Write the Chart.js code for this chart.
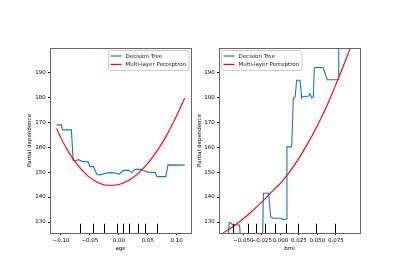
<!DOCTYPE html>
<html>
<head>
<meta charset="utf-8">
<script src="https://cdn.jsdelivr.net/npm/chart.js@4.4.1/dist/chart.umd.min.js"></script>
<style>
  html, body { margin: 0; padding: 0; background: #fff; }
  #wrap { position: relative; width: 400px; height: 280px; overflow: hidden; }
  canvas { position: absolute; top: 0; }
  #ageChart { left: 0; }
  #bmiChart { left: 190px; }
</style>
</head>
<body>
<div id="wrap">
  <canvas id="ageChart" width="200" height="280"></canvas>
  <canvas id="bmiChart" width="210" height="280"></canvas>
</div>
<script>
// shared y axis
const yTicks = [130, 140, 150, 160, 170, 180, 190];

// age panel
const ageTicks = [-0.10, -0.05, 0.00, 0.05, 0.10];
const ageDeciles = [-0.0675, -0.0443, -0.0260, -0.0040, 0.0069, 0.0173, 0.0336, 0.0445, 0.0665];
const ageTreeX = [-0.1077, -0.0995, -0.0975, -0.0820, -0.0790, -0.0750, -0.0700, -0.0640, -0.0530, -0.0500,
  -0.0440, -0.0380, -0.0320, -0.0200, -0.0140, -0.0060, 0.0010, 0.0070, 0.0170, 0.0220,
  0.0280, 0.0380, 0.0440, 0.0500, 0.0630, 0.0660, 0.0810, 0.0850, 0.1137];
const ageTreeY = [168.9, 168.9, 166.9, 166.9, 154.6, 154.5, 155.0, 154.3, 154.1, 152.2,
  152.3, 149.0, 148.9, 149.7, 149.8, 149.6, 149.2, 150.6, 150.8, 149.8,
  151.1, 151.1, 150.5, 150.0, 149.8, 148.2, 148.2, 152.9, 152.8];
const ageMlpX = [-0.1077, -0.10, -0.09, -0.08, -0.07, -0.06, -0.05, -0.04, -0.03, -0.02, -0.01, 0.00,
  0.01, 0.02, 0.03, 0.04, 0.05, 0.06, 0.07, 0.08, 0.09, 0.10, 0.1137];
const ageMlpY = [167.5, 163.6, 159.3, 155.6, 152.5, 149.9, 147.8, 146.3, 145.2, 144.7, 144.7, 145.0,
  145.9, 147.1, 148.8, 151.0, 153.5, 156.5, 159.9, 163.7, 168.0, 172.7, 179.6];

// bmi panel
const bmiTicks = [-0.050, -0.025, 0.000, 0.025, 0.050, 0.075];
const bmiDeciles = [-0.0639, -0.0436, -0.0332, -0.0200, -0.0076, 0.0081, 0.0243, 0.0483, 0.0740];
const bmiTreeX = [-0.0775, -0.0705, -0.0690, -0.0665, -0.0640, -0.0550, -0.0535, -0.0240, -0.0228, -0.0157,
  -0.0130, -0.0100, 0.0014, 0.0036, 0.0060, 0.0082, 0.0090, 0.0154, 0.0176, 0.0200,
  0.0221, 0.0266, 0.0289, 0.0300, 0.0378, 0.0401, 0.0424, 0.0446, 0.0460, 0.0492,
  0.0580, 0.0604, 0.0635, 0.0784, 0.0790, 0.0990];
const bmiTreeY = [122.5, 123.5, 129.8, 129.6, 128.8, 128.8, 122.0, 122.0, 141.5, 141.5,
  132.1, 131.5, 131.5, 130.9, 131.2, 131.1, 160.1, 160.1, 179.7, 179.9,
  186.8, 186.8, 179.7, 180.2, 180.4, 181.4, 179.7, 180.1, 191.7, 192.0,
  191.8, 189.7, 187.0, 187.0, 212.0, 212.0];
const bmiMlpX = [-0.0775, -0.07, -0.06, -0.05, -0.04, -0.03, -0.02, -0.01, 0.00, 0.01,
  0.02, 0.03, 0.04, 0.05, 0.06, 0.07, 0.08, 0.09, 0.099];
const bmiMlpY = [125.6, 127.0, 129.0, 131.3, 133.8, 136.6, 139.5, 142.6, 145.5, 149.1,
  153.2, 157.9, 163.0, 168.6, 174.7, 181.4, 188.7, 196.1, 203.2];

const seriesNames = ['Decision Tree', 'Multi-layer Perceptron'];
const FONT = { family: "'DejaVu Sans', sans-serif", size: 5.5 };
const minus = s => s.replace('-', '\u2212');
const pts = (xs, ys) => xs.map((x, i) => ({ x: x, y: ys[i] }));

// matplotlib-ish extras: full frame, decile rug, legend inside the axes
const axesExtras = {
  id: 'axesExtras',
  afterDatasetsDraw(chart, args, opts) {
    const { ctx, chartArea: a } = chart;
    const xs = chart.scales.x;
    ctx.save();

    ctx.strokeStyle = '#000';
    ctx.lineWidth = 1;
    const h = (a.bottom - a.top) * 0.05;
    opts.deciles.forEach(d => {
      const px = Math.round(xs.getPixelForValue(d)) + 0.5;
      ctx.beginPath();
      ctx.moveTo(px, a.bottom);
      ctx.lineTo(px, a.bottom - h);
      ctx.stroke();
    });

    ctx.strokeStyle = '#666';
    ctx.strokeRect(Math.round(a.left) + 0.5, Math.round(a.top) + 0.5,
      Math.round(a.right - a.left), Math.round(a.bottom - a.top));

    // legend
    ctx.font = FONT.size + 'px ' + FONT.family;
    const sets = chart.data.datasets;
    const tw = Math.max(...sets.map(ds => ctx.measureText(ds.label).width));
    const bw = 2.2 + 11 + 4.4 + tw + 2.2;
    const bh = 20;
    const bx = opts.corner === 'right' ? a.right - 2.5 - bw : a.left + 2;
    const by = a.top + 2;
    ctx.fillStyle = 'rgba(255,255,255,0.8)';
    ctx.strokeStyle = '#ccc';
    ctx.beginPath();
    ctx.roundRect(bx + 0.5, by + 0.5, bw, bh, 2);
    ctx.fill();
    ctx.stroke();
    ctx.textBaseline = 'middle';
    sets.forEach((ds, i) => {
      const ry = by + 6 + i * 8.4;
      ctx.strokeStyle = ds.borderColor;
      ctx.lineWidth = 1.2;
      ctx.beginPath();
      ctx.moveTo(bx + 2.5, ry);
      ctx.lineTo(bx + 13.5, ry);
      ctx.stroke();
      ctx.fillStyle = '#222';
      ctx.fillText(ds.label, bx + 17.5, ry + 0.3);
    });
    ctx.restore();
  }
};

function makeChart(id, cfg) {
  return new Chart(document.getElementById(id), {
    type: 'line',
    data: {
      datasets: [{
        label: seriesNames[0],
        data: pts(cfg.treeX, cfg.treeY),
        borderColor: '#1f77b4',
        borderWidth: 1.1,
        pointRadius: 0,
        tension: 0,
        order: 1
      }, {
        label: seriesNames[1],
        data: pts(cfg.mlpX, cfg.mlpY),
        borderColor: '#ff0000',
        borderWidth: 1.1,
        pointRadius: 0,
        cubicInterpolationMode: 'monotone',
        order: 0
      }]
    },
    options: {
      responsive: false,
      animation: false,
      events: [],
      layout: { padding: { left: 0, right: cfg.padRight, top: 48, bottom: 22 } },
      scales: {
        x: {
          type: 'linear',
          min: cfg.xMin,
          max: cfg.xMax,
          afterBuildTicks: s => { s.ticks = cfg.xTicks.map(v => ({ value: v })); },
          afterFit: s => { s.height = 25; },
          ticks: {
            font: FONT, color: '#000', padding: 2, maxRotation: 0, autoSkip: false,
            callback: v => minus(v.toFixed(cfg.dec))
          },
          grid: { drawOnChartArea: false, drawTicks: true, tickLength: 2, color: '#000' },
          border: { display: false },
          title: { display: true, text: cfg.xTitle, font: FONT, color: '#000', padding: { top: 0, bottom: 6.4 } }
        },
        y: {
          min: 125.6,
          max: 199.7,
          afterBuildTicks: s => { s.ticks = yTicks.map(v => ({ value: v })); },
          afterFit: s => { s.width = cfg.yWidth; },
          ticks: { font: FONT, color: '#000', padding: 2.3, callback: v => String(v) },
          grid: { drawOnChartArea: false, drawTicks: true, tickLength: 2, color: '#000' },
          border: { display: false },
          title: { display: true, text: 'Partial dependence', font: FONT, color: '#000', padding: { top: cfg.yTitlePad, bottom: 0 } }
        }
      },
      plugins: {
        legend: { display: false },
        tooltip: { enabled: false },
        axesExtras: { deciles: cfg.deciles, corner: cfg.corner }
      }
    },
    plugins: [axesExtras]
  });
}

makeChart('ageChart', {
  treeX: ageTreeX, treeY: ageTreeY, mlpX: ageMlpX, mlpY: ageMlpY,
  deciles: ageDeciles, xTicks: ageTicks, dec: 2, xTitle: 'age',
  xMin: -0.119, xMax: 0.1247, padRight: 9, yWidth: 50, yTitlePad: 26, corner: 'right'
});

makeChart('bmiChart', {
  treeX: bmiTreeX, treeY: bmiTreeY, mlpX: bmiMlpX, mlpY: bmiMlpY,
  deciles: bmiDeciles, xTicks: bmiTicks, dec: 3, xTitle: 'bmi',
  xMin: -0.0828, xMax: 0.1077, padRight: 40, yWidth: 29, yTitlePad: 6.2, corner: 'left'
});
</script>
</body>
</html>
